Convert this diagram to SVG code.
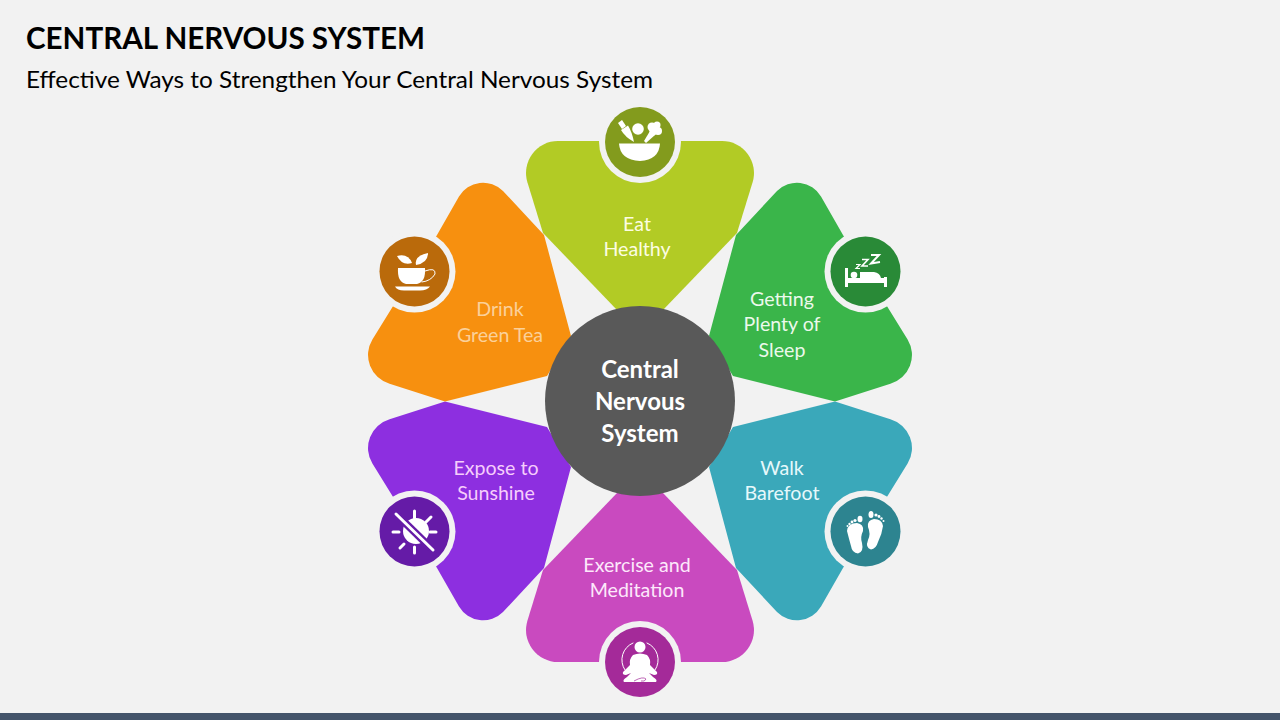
<svg xmlns="http://www.w3.org/2000/svg" width="1280" height="720" viewBox="0 0 1280 720">
<style>
text{font-family:"Lato","Open Sans","Liberation Sans",sans-serif;text-anchor:middle}
.lbl{font-size:19.6px}
.ring{fill:#f2f2f2}
.ic{fill:#fff}
.st{fill:none;stroke:#fff;stroke-linecap:round}
.z{fill:none;stroke:#fff;stroke-linejoin:miter}
</style>
<defs>
<path id="petalTop" d="M558 141H722A32 32 0 0 1 752.600 182.300L737 233L663 310H617L543 233L527.400 182.300A32 32 0 0 1 558 141Z"/>
<path id="petalSide" d="M736 235L709 336L733 376L835 401.500L890.400 383.800A30 30 0 0 0 907.600 339.400L843 235L821 196.400A28 28 0 0 0 777 191Z"/>
</defs>
<rect width="1280" height="720" fill="#f2f2f2"/>
<rect y="713" width="1280" height="7" fill="#44546a"/>
<text x="26" y="49" font-size="31" font-weight="700" textLength="399" lengthAdjust="spacingAndGlyphs" style="text-anchor:start">CENTRAL NERVOUS SYSTEM</text>
<text x="26" y="88" font-size="24" textLength="627" lengthAdjust="spacingAndGlyphs" style="text-anchor:start">Effective Ways to Strengthen Your Central Nervous System</text>

<g id="node-eat">
<use href="#petalTop" fill="#b2cb25"/>
<circle class="ring" cx="640" cy="142" r="41"/>
<circle cx="640" cy="142" r="35" fill="#839b1d"/>
<path class="ic" d="M619 143.500H660Q659 160 640 161Q620 160 619 143.500Z"/>
<circle class="ic" cx="638" cy="129" r="5.800"/>
<path class="ic" d="M621 130L628 125.500Q632 132 634 142Q625 137 621 130Z"/>
<path class="ic" d="M618 123L622 120L626 126L622 129Z"/>
<path class="ic" d="M644 141L650 131L655 135L646 143Z"/>
<circle class="ic" cx="652" cy="127" r="4.500"/><circle class="ic" cx="657" cy="125" r="3.500"/><circle class="ic" cx="658" cy="131" r="4"/><circle class="ic" cx="653" cy="132" r="3.500"/>
<text class="lbl" fill="#fdfde2" x="637" y="231">Eat</text>
<text class="lbl" fill="#fdfde2" x="637" y="256">Healthy</text>
</g>

<g id="node-sleep">
<use href="#petalSide" fill="#3ab54a"/>
<circle class="ring" cx="865.500" cy="271.500" r="41"/>
<circle cx="865.500" cy="271.500" r="35" fill="#298a37"/>
<path class="ic" d="M845 268H848V278H884V277H887V287H884V283H848V287H845Z"/>
<circle class="ic" cx="854" cy="275" r="3.300"/>
<path class="ic" d="M860 272H874Q880 273 881 278H860Z"/>
<path class="z" stroke-width="1.200" d="M856 264.500H860L856 268.500H860"/>
<path class="z" stroke-width="1.600" d="M862 259.500H868L862 266H868"/>
<path class="z" stroke-width="2" d="M871 255H879L871 263.500L880 262"/>
<text class="lbl" fill="#ecf9ec" x="782" y="306">Getting</text>
<text class="lbl" fill="#ecf9ec" x="782" y="331">Plenty of</text>
<text class="lbl" fill="#ecf9ec" x="782" y="357">Sleep</text>
</g>

<g id="node-walk">
<use href="#petalSide" transform="matrix(1 0 0 -1 0 803)" fill="#3aa8ba"/>
<circle class="ring" cx="865.500" cy="531.500" r="41"/>
<circle cx="865.500" cy="531.500" r="35" fill="#2d8490"/>
<path class="ic" d="M847 531Q848 523 857 523Q864 524 863 531Q860 537 862 543Q864 552 858 553.500Q852 553 851 546Q849 539 847 531Z"/>
<path class="ic" d="M883 526Q882 519 874 519Q867 520 868 527Q871 534 868 540Q865 548 871 549.500Q876 549 878 542Q882 534 883 526Z"/>
<ellipse class="ic" cx="860" cy="519" rx="2.500" ry="3.300"/><circle class="ic" cx="855" cy="520.500" r="1.600"/><circle class="ic" cx="852" cy="522" r="1.400"/><circle class="ic" cx="849.500" cy="524" r="1.200"/><circle class="ic" cx="847.500" cy="526" r="1"/>
<ellipse class="ic" cx="871" cy="514.500" rx="2.500" ry="3.500"/><circle class="ic" cx="876" cy="515" r="1.600"/><circle class="ic" cx="879" cy="516.500" r="1.400"/><circle class="ic" cx="881.500" cy="518.500" r="1.200"/><circle class="ic" cx="883.500" cy="521" r="1"/>
<text class="lbl" fill="#e6f8fb" x="782" y="475">Walk</text>
<text class="lbl" fill="#e6f8fb" x="782" y="500">Barefoot</text>
</g>

<g id="node-exercise">
<use href="#petalTop" transform="matrix(1 0 0 -1 0 803)" fill="#c94abf"/>
<circle class="ring" cx="640" cy="662" r="41"/>
<circle cx="640" cy="662" r="35" fill="#a42a99"/>
<circle class="ic" cx="640" cy="647" r="5.500"/>
<path class="ic" d="M633 655Q640 652 647 655Q651 659 650 665L657 672Q658 675 654 675L649 673L653 677Q658 680 656 682H624Q622 680 627 677L631 673L626 675Q622 675 623 672L630 665Q629 659 633 655Z"/>
<path class="st" d="M625 670A18 18 0 0 1 633 643M647 643A18 18 0 0 1 655 670" stroke-width="1"/>
<path d="M634 681Q643 676 646 679Q645 682 641 681" fill="none" stroke="#a42a99" stroke-width=".7"/>
<text class="lbl" fill="#fde8fb" x="637" y="572">Exercise and</text>
<text class="lbl" fill="#fde8fb" x="637" y="597">Meditation</text>
</g>

<g id="node-sun">
<use href="#petalSide" transform="matrix(-1 0 0 -1 1280 803)" fill="#8d2fe0"/>
<circle class="ring" cx="414.500" cy="531.500" r="41"/>
<circle cx="414.500" cy="531.500" r="35" fill="#651ba7"/>
<circle class="ic" cx="416" cy="531" r="13"/>
<path d="M393 511L436 553" stroke="#651ba7" stroke-width="7.500"/>
<path class="st" stroke-width="3" d="M396 514L433 550M414.500 511V518M414.500 547V553M393 532H399M430 532H436M431 517L426 522M404 544L400 548"/>
<text class="lbl" fill="#f6cdfc" x="496" y="475">Expose to</text>
<text class="lbl" fill="#f6cdfc" x="496" y="500">Sunshine</text>
</g>

<g id="node-tea">
<use href="#petalSide" transform="matrix(-1 0 0 1 1280 0)" fill="#f7900f"/>
<circle class="ring" cx="414.500" cy="271.500" r="41"/>
<circle cx="414.500" cy="271.500" r="35" fill="#ba6a0b"/>
<path class="ic" d="M398 268H425Q426 282 417 284H406Q397 282 398 268Z"/>
<path class="ic" d="M395 286.500H430Q427 290.500 420 290.500H404Q397 290.500 395 286.500Z"/>
<path class="st" stroke-width="1" d="M425 271Q436 267 435 274Q431 281 422 282"/>
<path class="ic" d="M397 256Q408 253 412 263Q402 266 397 256Z"/>
<path class="ic" d="M428 253Q428 263 416 265Q414 256 428 253Z"/>
<text class="lbl" fill="#fbd09a" x="500" y="316">Drink</text>
<text class="lbl" fill="#fbd09a" x="500" y="342">Green Tea</text>
</g>

<g id="node-center">
<circle cx="640" cy="401" r="95" fill="#595959"/>
<text x="640" y="378" font-size="24" font-weight="700" fill="#fff">Central</text>
<text x="640" y="410" font-size="24" font-weight="700" fill="#fff">Nervous</text>
<text x="640" y="442" font-size="24" font-weight="700" fill="#fff">System</text>
</g>
<g id="connectors"/>
</svg>
